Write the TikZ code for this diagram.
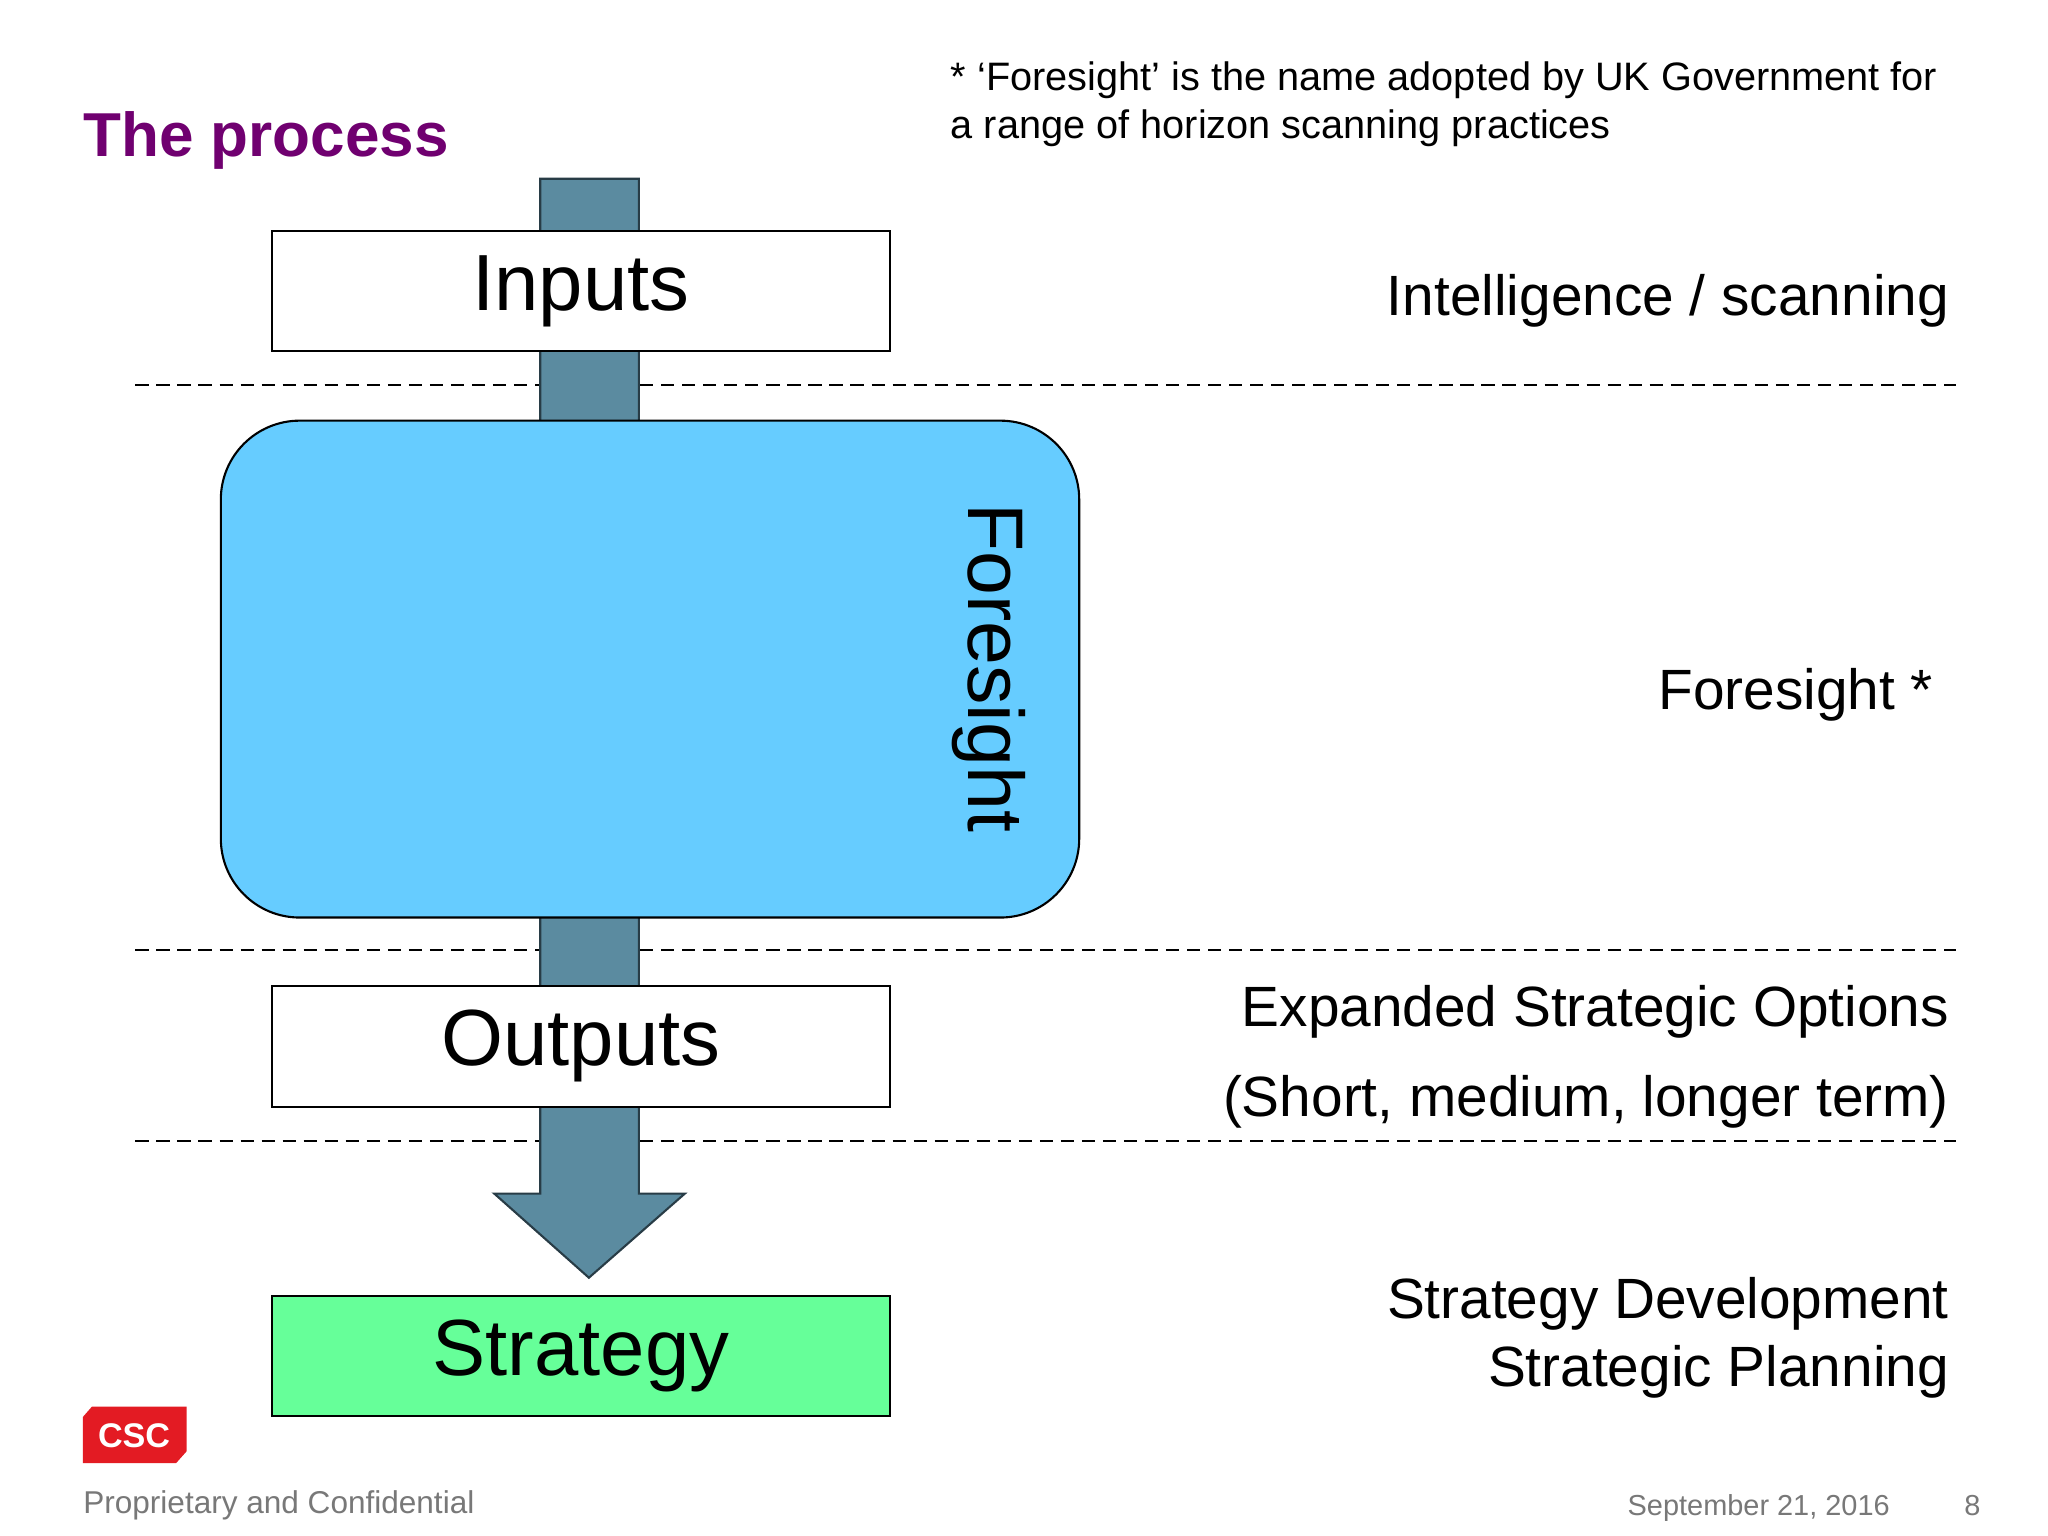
\documentclass[tikz,border=0pt]{standalone}
\usepackage{fontspec}
\setmainfont{Liberation Sans}
\definecolor{arrowc}{RGB}{91,139,160}
\definecolor{arrowd}{RGB}{40,60,70}
\definecolor{fsc}{RGB}{102,204,255}
\definecolor{stc}{RGB}{102,255,153}
\definecolor{titc}{RGB}{112,0,112}
\definecolor{cscred}{RGB}{227,27,35}
\definecolor{footc}{RGB}{120,120,120}
\begin{document}
\begin{tikzpicture}[x=0.5pt,y=-0.5pt,
  box/.style={draw=black,line width=0.8pt,fill=white},
  dline/.style={line width=0.7pt,dash pattern=on 5pt off 3pt},
  rt/.style={anchor=base east,inner sep=0pt,font=\fontsize{21.6}{26}\selectfont},
  big/.style={font=\fontsize{30.3}{36}\selectfont}]
\useasboundingbox (0,0) rectangle (1558,1168);
\fill[white] (0,0) rectangle (1558,1168);
% dashed lines
\foreach \y/\n in {293/a,723/b,868/c}{\draw[dline] (103,\y) coordinate (l\n) -- (1488,\y) coordinate (r\n);}
% arrow
\draw[fill=arrowc,draw=arrowd,line width=0.8pt]
 (411,136) -- (486,136) -- (486,908) -- (521,908) -- (448,972) -- (376,908) -- (411,908) -- cycle;
% boxes
\node[box,minimum width=235pt,minimum height=45.5pt,big] (inputs) at (442,221.5) {Inputs};
\draw[fill=fsc,draw=black,line width=0.8pt,rounded corners=30pt] (168,320) rectangle (821,698);
\node[rotate=-90,font=\fontsize{30}{36}\selectfont] (fs) at (752,508) {Foresight};
\node[box,minimum width=235pt,minimum height=46pt,big] (outputs) at (442,796) {Outputs};
\node[box,fill=stc,minimum width=235pt,minimum height=45.5pt,big] (strategy) at (442,1031.5) {Strategy};
% title & note
\node[anchor=base west,inner sep=0pt,font=\fontsize{23.6}{28}\bfseries\selectfont,text=titc] (title) at (63,119) {The process};
\node[anchor=base west,inner sep=0pt,font=\fontsize{15.1}{18}\selectfont] (n1) at (723,69) {* ‘Foresight’ is the name adopted by UK Government for};
\node[anchor=base west,inner sep=0pt,font=\fontsize{15.1}{18}\selectfont] (n2) at (723,105) {a range of horizon scanning practices};
% right texts
\node[rt] (t1) at (1483,240) {Intelligence / scanning};
\node[rt] (t2) at (1471,540) {Foresight *};
\node[rt] (t3) at (1483,781) {Expanded Strategic Options};
\node[rt] (t4) at (1483,849) {(Short, medium, longer term)};
\node[rt] (t5) at (1483,1003) {Strategy Development};
\node[rt] (t6) at (1483,1055) {Strategic Planning};
% logo
\fill[cscred] (70,1070) -- (142,1070) -- (142,1104) -- (134,1113) -- (63,1113) -- (63,1078) -- cycle;
\node[text=white,font=\fontsize{13}{15}\bfseries\selectfont] (logo) at (102,1092) {CSC};
% footer
\node[anchor=base west,inner sep=0pt,text=footc,font=\fontsize{12}{14}\selectfont] (f1) at (63,1151) {Proprietary and Confidential};
\node[anchor=base east,inner sep=0pt,text=footc,font=\fontsize{11}{13}\selectfont] (f2) at (1438,1153) {September 21, 2016};
\node[anchor=base east,inner sep=0pt,text=footc,font=\fontsize{11}{13}\selectfont] (f3) at (1507,1153) {8};
\end{tikzpicture}
\end{document}
